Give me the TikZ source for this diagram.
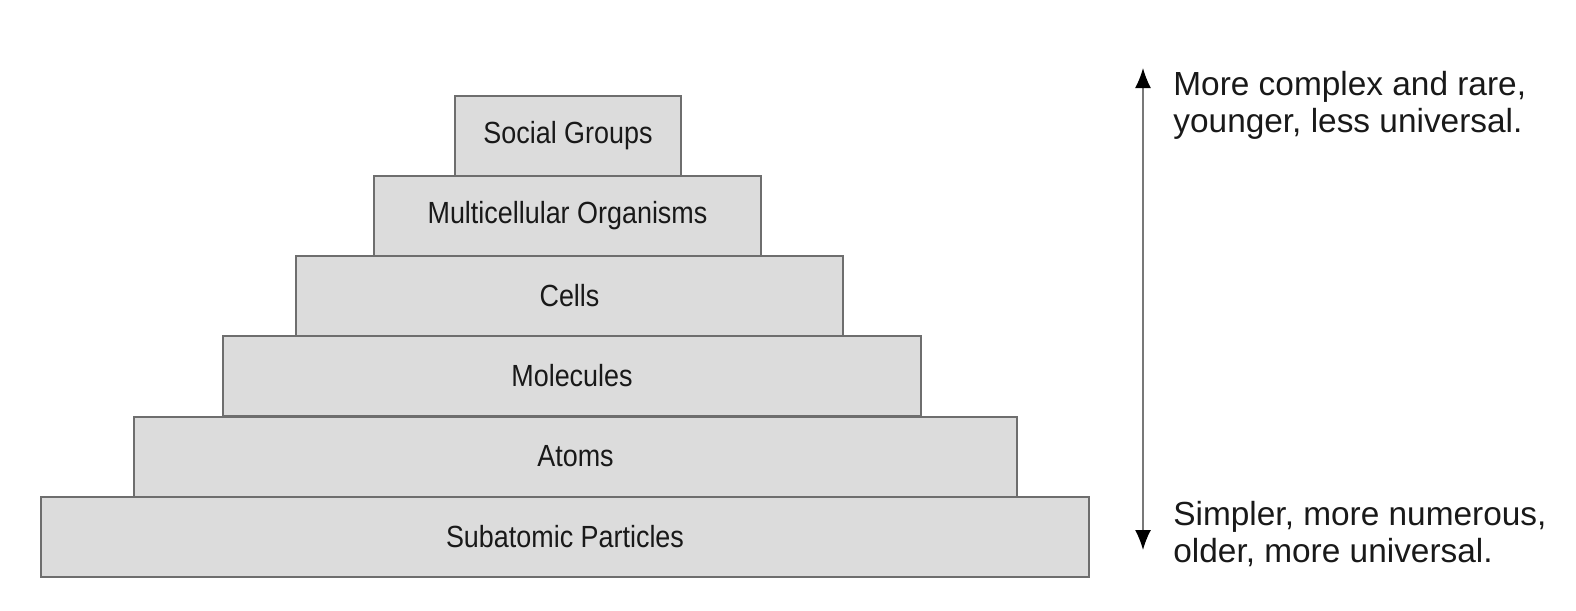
\documentclass[tikz,border=0pt]{standalone}
\usepackage{fontspec}
\setmainfont{Liberation Sans}
\newfontfamily\narrowfont[FakeStretch=0.88]{Liberation Sans}
\usetikzlibrary{arrows.meta}
\definecolor{boxfill}{RGB}{220,220,220}
\definecolor{boxline}{RGB}{110,110,110}
\definecolor{shaft}{RGB}{120,120,120}
\tikzstyle{level} = [rectangle,
minimum height=40pt,
inner sep=0pt,
text centered,
draw=boxline,
line width=1pt,
fill=boxfill,
text=black!90,
font=\narrowfont\fontsize{15.3pt}{18pt}\selectfont]
\tikzstyle{note} = [anchor=base west,
inner sep=0pt,
align=left,
text=black!90,
font=\fontsize{16.7pt}{18.5pt}\selectfont]
\tikzstyle{axisarrow} = [line width=0.75pt,draw=shaft,
{Latex[length=10pt,width=8pt,color=black]}-{Latex[length=10pt,width=8pt,color=black]}]

\begin{document}
\begin{tikzpicture}[x=0.5pt,y=-0.5pt]
\useasboundingbox (0,0) rectangle (1576,611);

\node (sub) [level, minimum width=524pt] at (565,537) {Subatomic Particles};
\node (atoms) [level, minimum width=441.5pt] at (575.5,456.5) {Atoms};
\node (mol) [level, minimum width=349pt] at (572,376) {Molecules};
\node (cells) [level, minimum width=273.5pt] at (569.5,296) {Cells};
\node (multi) [level, minimum width=193.5pt] at (567.5,216) {Multicellular Organisms};
\node (social) [level, minimum width=113pt] at (568,136) {Social Groups};

\coordinate (hi) at (1143,68);
\coordinate (lo) at (1143,550);
\draw [axisarrow] (lo) -- (hi);

\node (complex) [note] at (1173,132) {More complex and rare,\\younger, less universal.};
\node (simple) [note] at (1173,562) {Simpler, more numerous,\\older, more universal.};

\end{tikzpicture}
\end{document}
